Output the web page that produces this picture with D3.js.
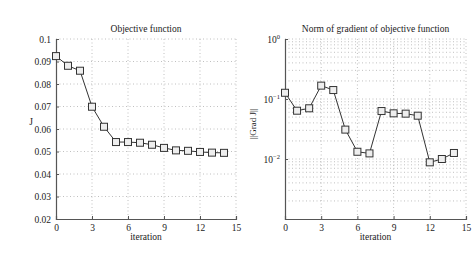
<!DOCTYPE html>
<html>
<head>
<meta charset="utf-8">
<script src="https://cdn.jsdelivr.net/npm/d3@7"></script>
<style>
  body { margin: 0; background: #fff; }
  text { font-family: "Liberation Serif", "DejaVu Serif", serif; fill: #222; }
</style>
</head>
<body>
<div id="container"></div>
<script>
/* DATA */
const iterations = [0, 1, 2, 3, 4, 5, 6, 7, 8, 9, 10, 11, 12, 13, 14];
const objective = [0.0924, 0.0881, 0.0859, 0.0699, 0.061, 0.0542, 0.0542, 0.0539, 0.053, 0.0516, 0.0505, 0.0503, 0.0498, 0.0495, 0.0494];
const gradNorm = [0.127, 0.0638, 0.070, 0.167, 0.141, 0.0309, 0.0132, 0.0124, 0.063, 0.0577, 0.057, 0.0527, 0.0088, 0.010, 0.0126];
const xTicks = [0, 3, 6, 9, 12, 15];
const jTicks = [0.02, 0.03, 0.04, 0.05, 0.06, 0.07, 0.08, 0.09, 0.1];
const logTicks = [1e-3, 1e-2, 1e-1, 1];

const W = 474, H = 259;
const svg = d3.select("#container").append("svg")
  .attr("width", W).attr("height", H);

const lineColor = "#333";
const gridColor = "#b0b0b0";

function panel(opts) {
  const x = d3.scaleLinear().domain([0, 15]).range([opts.left, opts.right]);
  const y = opts.y;
  const g = svg.append("g");

  // grid
  g.selectAll(".hgrid").data(opts.hgrid).join("line")
    .attr("x1", opts.left).attr("x2", opts.right)
    .attr("y1", d => y(d)).attr("y2", d => y(d))
    .attr("stroke", gridColor).attr("stroke-width", 0.8)
    .attr("stroke-dasharray", "1,2.5");
  g.selectAll(".vgrid").data(xTicks.slice(1)).join("line")
    .attr("x1", d => x(d)).attr("x2", d => x(d))
    .attr("y1", opts.top).attr("y2", opts.bottom)
    .attr("stroke", gridColor).attr("stroke-width", 0.8)
    .attr("stroke-dasharray", "1,2.5");

  // axes
  const xAxis = d3.axisBottom(x).tickValues(xTicks).tickSize(-3).tickPadding(5);
  const gx = g.append("g").attr("transform", `translate(0,${opts.bottom})`).call(xAxis);
  const yAxis = d3.axisLeft(y).tickValues(opts.yticks).tickSize(-3).tickPadding(5)
    .tickFormat(opts.yformat || (d => d));
  const gy = g.append("g").attr("transform", `translate(${opts.left},0)`).call(yAxis);
  [gx, gy].forEach(a => {
    a.select(".domain").attr("stroke", "#555").attr("stroke-width", 1.2);
    a.selectAll(".tick line").attr("stroke", "#555");
    a.selectAll("text").style("font-family", "Liberation Serif, serif")
      .attr("font-size", 9.5).attr("fill", "#222");
  });
  if (opts.afterY) opts.afterY(gy);

  // line
  const line = d3.line().x((d, i) => x(iterations[i])).y(d => y(d));
  g.append("path").datum(opts.values)
    .attr("d", line).attr("fill", "none")
    .attr("stroke", lineColor).attr("stroke-width", 1);

  // square markers
  const s = 7;
  g.selectAll(".mark").data(opts.values).join("rect")
    .attr("x", (d, i) => x(iterations[i]) - s / 2)
    .attr("y", d => y(d) - s / 2)
    .attr("width", s).attr("height", s)
    .attr("fill", "#eee").attr("stroke", lineColor).attr("stroke-width", 1);

  // texts
  g.append("text").attr("x", (opts.left + opts.right) / 2).attr("y", 32)
    .attr("text-anchor", "middle").attr("font-size", 9.5).text(opts.title);
  g.append("text").attr("x", (opts.left + opts.right) / 2).attr("y", 240)
    .attr("text-anchor", "middle").attr("font-size", 9.5).text("iteration");
  opts.ylabel(g);
}

// left panel: objective function
const yJ = d3.scaleLinear().domain([0.02, 0.1]).range([219, 39]);
panel({
  left: 56, right: 236, top: 39, bottom: 219,
  y: yJ, yticks: jTicks, hgrid: jTicks.slice(1),
  yformat: d => d3.format("")(+d.toFixed(2)),
  values: objective,
  title: "Objective function",
  ylabel: g => g.append("text").attr("x", 31).attr("y", 125)
    .attr("text-anchor", "middle").attr("font-size", 9.5).text("J")
});

// right panel: gradient norm (log scale)
const yG = d3.scaleLog().domain([1e-3, 1]).range([219, 39]);
const minor = [];
[1e-3, 1e-2, 1e-1].forEach(dec => {
  for (let k = 2; k <= 10; k++) minor.push(dec * k);
});
panel({
  left: 285, right: 466, top: 39, bottom: 219,
  y: yG, yticks: logTicks, hgrid: minor,
  yformat: () => "",
  afterY: gy => {
    gy.selectAll(".tick").each(function (d) {
      const e = Math.round(Math.log10(d));
      if (e === -3) return;
      const t = d3.select(this).select("text").attr("dy", "0.32em");
      t.append("tspan").text("10");
      t.append("tspan").attr("dy", "-0.5em").attr("font-size", 6.5)
        .text(e === 0 ? "0" : "\u2212" + (-e));
    });
  },
  values: gradNorm,
  title: "Norm of gradient of objective function",
  ylabel: g => g.append("text")
    .attr("transform", "translate(256,124) rotate(-90)")
    .attr("text-anchor", "middle").attr("font-size", 9).text("||Grad J||")
});
</script>
</body>
</html>
